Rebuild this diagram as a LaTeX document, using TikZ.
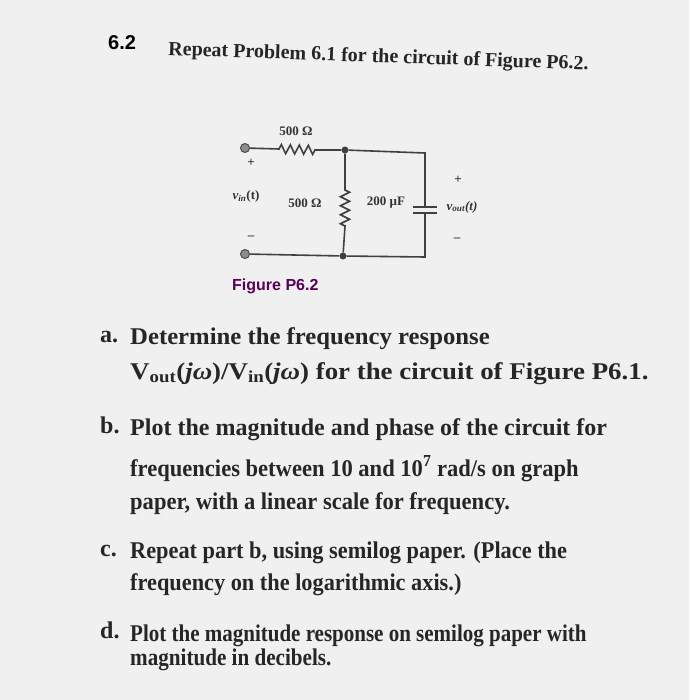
\documentclass[tikz,border=0pt]{standalone}
\usepackage{fontspec}
\setmainfont{Liberation Serif}
\newfontfamily\sfb{Liberation Sans}
\usetikzlibrary{decorations.pathmorphing}
\begin{document}
\begin{tikzpicture}[x=1pt,y=-1pt,
  txt/.style={anchor=base west,inner sep=0,font=\fontsize{24}{26}\selectfont\bfseries,text=black!85},
  ctxt/.style={inner sep=0,font=\fontsize{13}{14}\selectfont\bfseries,text=black!80},
  wire/.style={line width=1.6pt,draw=black!75},
  term/.style={circle,fill=black!45,draw=black!70,line width=1pt,minimum size=9pt,inner sep=0},
  dot/.style={circle,fill=black!75,minimum size=7pt,inner sep=0},
  zz/.style={decoration={zigzag,amplitude=4.5pt,segment length=9pt}}]
\useasboundingbox (0,0) rectangle (689,700);
\fill[black!6] (0,0) rectangle (689,700);
\node[anchor=base west,inner sep=0,font=\sfb\fontsize{20}{22}\selectfont\bfseries] (num) at (108,50) {6.2};
\node[txt,font=\fontsize{20}{22}\selectfont\bfseries,rotate=-2] (hd) at (168,55) {Repeat Problem 6.1 for the circuit of Figure P6.2.};
% circuit
\node[term] (t1) at (245,148) {};
\node[term] (t2) at (245,254) {};
\node[dot] (n1) at (345,150) {};
\node[dot] (n2) at (343,256) {};
\coordinate (c1) at (425,153);
\coordinate (c2) at (425,257);
\draw[wire] (t1) -- (279,149) decorate[zz]{-- (315,150)} -- (n1);
\draw[wire] (n1) -- (345,190) decorate[zz]{-- (345,226)} -- (n2);
\draw[wire] (n1) -- (c1) -- (425,207);
\draw[wire] (413,207) -- (437,207);
\draw[wire] (413,213) -- (437,213);
\draw[wire] (425,213) -- (c2) -- (n2) -- (t2);
\node[ctxt] (l1) at (296,131) {500 Ω};
\node[ctxt] (p1) at (251,163) {+};
\node[ctxt] (m1) at (251,238) {–};
\node[ctxt] (vin) at (246,196) {\itshape v\textsubscript{in}\upshape(t)};
\node[ctxt] (l2) at (305,203) {500 Ω};
\node[ctxt] (l3) at (386,203) {200 μF};
\node[ctxt] (vout) at (462,207) {\itshape v\textsubscript{out}(t)};
\node[ctxt] (p2) at (458,180) {+};
\node[ctxt] (m2) at (457,240) {–};
\node[anchor=west,inner sep=0,font=\sfb\fontsize{16}{17}\selectfont\bfseries,text=violet!70!black] (fig) at (232,286) {Figure P6.2};
% questions
\node[txt] (a) at (100,342) {a.};
\node[txt,xscale=1.03] (a1) at (130,344) {Determine the frequency response};
\node[txt,xscale=1.12] (a2) at (130,379) {V\textsubscript{out}(\textit{jω})/V\textsubscript{in}(\textit{jω}) for the circuit of Figure P6.1.};
\node[txt] (b) at (100,433) {b.};
\node[txt] (b1) at (130,435) {Plot the magnitude and phase of the circuit for};
\node[txt,xscale=0.94] (b2) at (130,476) {frequencies between 10 and 10\textsuperscript{7} rad/s on graph};
\node[txt,xscale=0.94] (b3) at (130,509) {paper, with a linear scale for frequency.};
\node[txt] (c) at (100,556) {c.};
\node[txt,xscale=0.93] (c1t) at (130,558) {Repeat part b, using semilog paper. (Place the};
\node[txt,xscale=0.93] (c2t) at (130,590) {frequency on the logarithmic axis.)};
\node[txt] (d) at (100,638) {d.};
\node[txt,xscale=0.875] (d1) at (130,641) {Plot the magnitude response on semilog paper with};
\node[txt,xscale=0.88] (d2) at (130,665) {magnitude in decibels.};
\end{tikzpicture}
\end{document}
